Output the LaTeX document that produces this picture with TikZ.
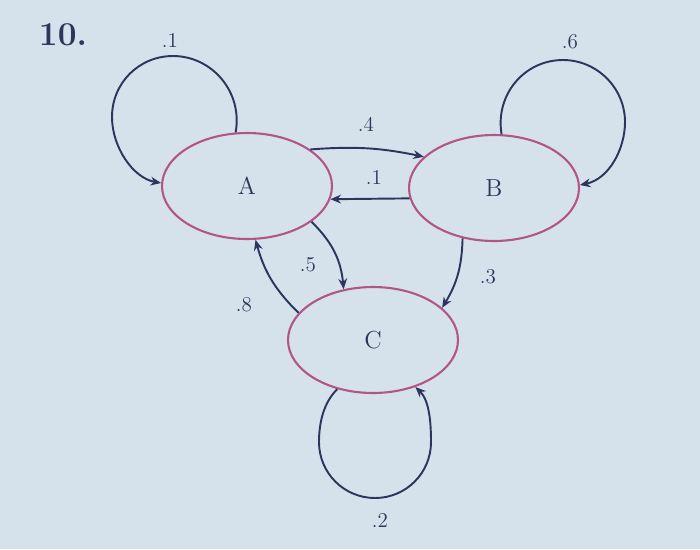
\documentclass[tikz,border=0pt]{standalone}
\usetikzlibrary{shapes.geometric,arrows.meta}
\definecolor{screen}{RGB}{214,226,235}
\definecolor{rim}{RGB}{178,86,136}
\definecolor{ink}{RGB}{44,54,92}
\begin{document}
\begin{tikzpicture}[x=0.02cm,y=-0.02cm,
    state/.style={draw=rim,line width=1.2pt,ellipse,inner sep=0pt,
        minimum width=3.4cm,minimum height=2.12cm,text=ink,
        font=\fontsize{14}{16}\selectfont},
    prob/.style={text=ink,font=\fontsize{12}{14}\selectfont},
    arr/.style={draw=ink,line width=1.1pt,-{Stealth[length=6pt,width=5pt]}}]
    % Screen background
    \fill[screen] (0,0) rectangle (700,549);
    \useasboundingbox (0,0) rectangle (700,549);

    % Exercise number
    \node[text=ink,font=\fontsize{19}{21}\bfseries\selectfont] (num) at (63,35) {10.};

    % States
    \node[state] (A) at (247,186) {A};
    \node[state] (B) at (494,188) {B};
    \node[state] (C) at (373,340) {C};

    % Self loops
    \draw[arr] (A.102) .. controls (243,92) and (212,56) .. (173,56)
        .. controls (139,56) and (112,83) .. (112,117)
        .. controls (112,147) and (133,178) .. (A.178);
    \draw[arr] (B.82) .. controls (495,95) and (524,60) .. (563,60)
        .. controls (597,60) and (625,88) .. (625,122)
        .. controls (625,149) and (609,179) .. (B.2);
    \draw[arr] (C.234) .. controls (323,403) and (319,424) .. (319,442)
        .. controls (319,473) and (344,498) .. (375,498)
        .. controls (406,498) and (431,473) .. (431,442)
        .. controls (431,426) and (430,401) .. (C.312);

    % Transitions
    \draw[arr] (A.30) to[bend left=8] (B.156);
    \draw[arr] (B.187) -- (A.351);
    \draw[arr] (A.331) to[bend left=20] (C.120);
    \draw[arr] (C.160) to[bend left=15] (A.279);
    \draw[arr] (B.238) to[bend left=15] (C.25);

    % Probabilities
    \node[prob] (pAA) at (170,40) {.1};
    \node[prob] (pBB) at (570,42) {.6};
    \node[prob] (pCC) at (380,520) {.2};
    \node[prob] (pAB) at (366,124) {.4};
    \node[prob] (pBA) at (374,177) {.1};
    \node[prob] (pAC) at (308,265) {.5};
    \node[prob] (pCA) at (244,305) {.8};
    \node[prob] (pBC) at (488,277) {.3};
\end{tikzpicture}
\end{document}
